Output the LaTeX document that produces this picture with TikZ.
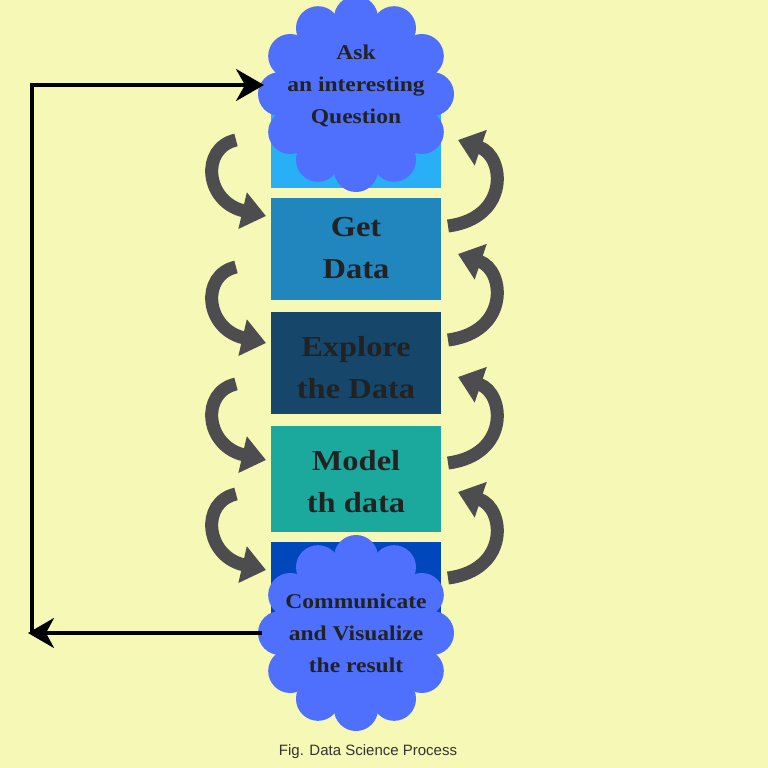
\documentclass[tikz,border=0pt]{standalone}
\usepackage{fontspec}
\usetikzlibrary{arrows.meta}
\newfontfamily\pf[FakeStretch=1.12]{Liberation Serif}
\setsansfont{Liberation Sans}
\definecolor{bg}{HTML}{F6F8B6}
\definecolor{cloudc}{HTML}{4F6FFD}
\definecolor{bA}{HTML}{29AFF5}
\definecolor{bB}{HTML}{2185BE}
\definecolor{bC}{HTML}{16476A}
\definecolor{bD}{HTML}{1AA99C}
\definecolor{bE}{HTML}{0047BB}
\definecolor{txt}{HTML}{222222}
\definecolor{arr}{HTML}{4D4D50}
\tikzset{
  stepbox/.style={minimum width=170pt,inner sep=0pt,anchor=north west},
  boxtxt/.style={font=\pf\bfseries\fontsize{29}{42}\selectfont,text=txt,align=center},
  cloudtxt/.style={font=\pf\bfseries\fontsize{21}{32}\selectfont,text=txt,align=center},
  garrow/.style={draw=arr,line width=13pt,-{Triangle[length=24pt,width=36pt]}},
  karrow/.style={draw=black,line width=3.5pt},
}
\newcommand{\mycloud}[2]{%
  \fill[cloudc] #1 ellipse (82pt and 80pt);
  \foreach \a in {0,30,...,330}{\fill[cloudc] #1 ++(\a:76pt and 76pt) circle (22pt);}
}
\begin{document}
\begin{tikzpicture}[x=1pt,y=-1pt]
\fill[bg] (0,0) rectangle (768,768);
\useasboundingbox (0,0) rectangle (768,768);
\node[stepbox,fill=bA,minimum height=80pt] (b1) at (271,108) {};
\node[stepbox,fill=bB,minimum height=102pt] (b2) at (271,198) {};
\node[stepbox,fill=bC,minimum height=102pt] (b3) at (271,312) {};
\node[stepbox,fill=bD,minimum height=106pt] (b4) at (271,426) {};
\node[stepbox,fill=bE,minimum height=98pt] (b5) at (271,542) {};
\mycloud{(356,94)}{}
\mycloud{(356,633)}{}
\node[cloudtxt] (q) at (356,86) {Ask\\an interesting\\Question};
\node[cloudtxt] (c) at (356,633) {Communicate\\and Visualize\\the result};
\node[boxtxt] (t2) at (356,248) {Get\\Data};
\node[boxtxt] (t3) at (356,368) {Explore\\the Data};
\node[boxtxt] (t4) at (356,482) {Model\\th data};
% left curved arrows
\foreach \y in {140,267,384,494}{
  \draw[garrow] (236,\y) .. controls (200,\y+8) and (205,\y+62) .. (266,\y+76);
}
% right curved arrows
\foreach \y in {226,340,463,578}{
  \draw[garrow] (448,\y) .. controls (510,\y-8) and (505,\y-70) .. (458,\y-86);
}
% black feedback arrows
\coordinate (k1) at (32,633);
\coordinate (k2) at (32,85);
\coordinate (cw) at (262,633);
\coordinate (qw) at (264,85);
\draw[karrow,-{Stealth[length=26pt,width=30pt,inset=8pt]}] (cw) -- (28,633);
\draw[karrow] (k1) -- (k2) -- (236,85);
\draw[karrow,-{Stealth[length=28pt,width=32pt,inset=9pt]}] (230,85) -- (qw);
\node[font=\sffamily\fontsize{15}{18}\selectfont,text=black!80] (cap) at (368,752) {Fig. Data Science Process};
\end{tikzpicture}
\end{document}
